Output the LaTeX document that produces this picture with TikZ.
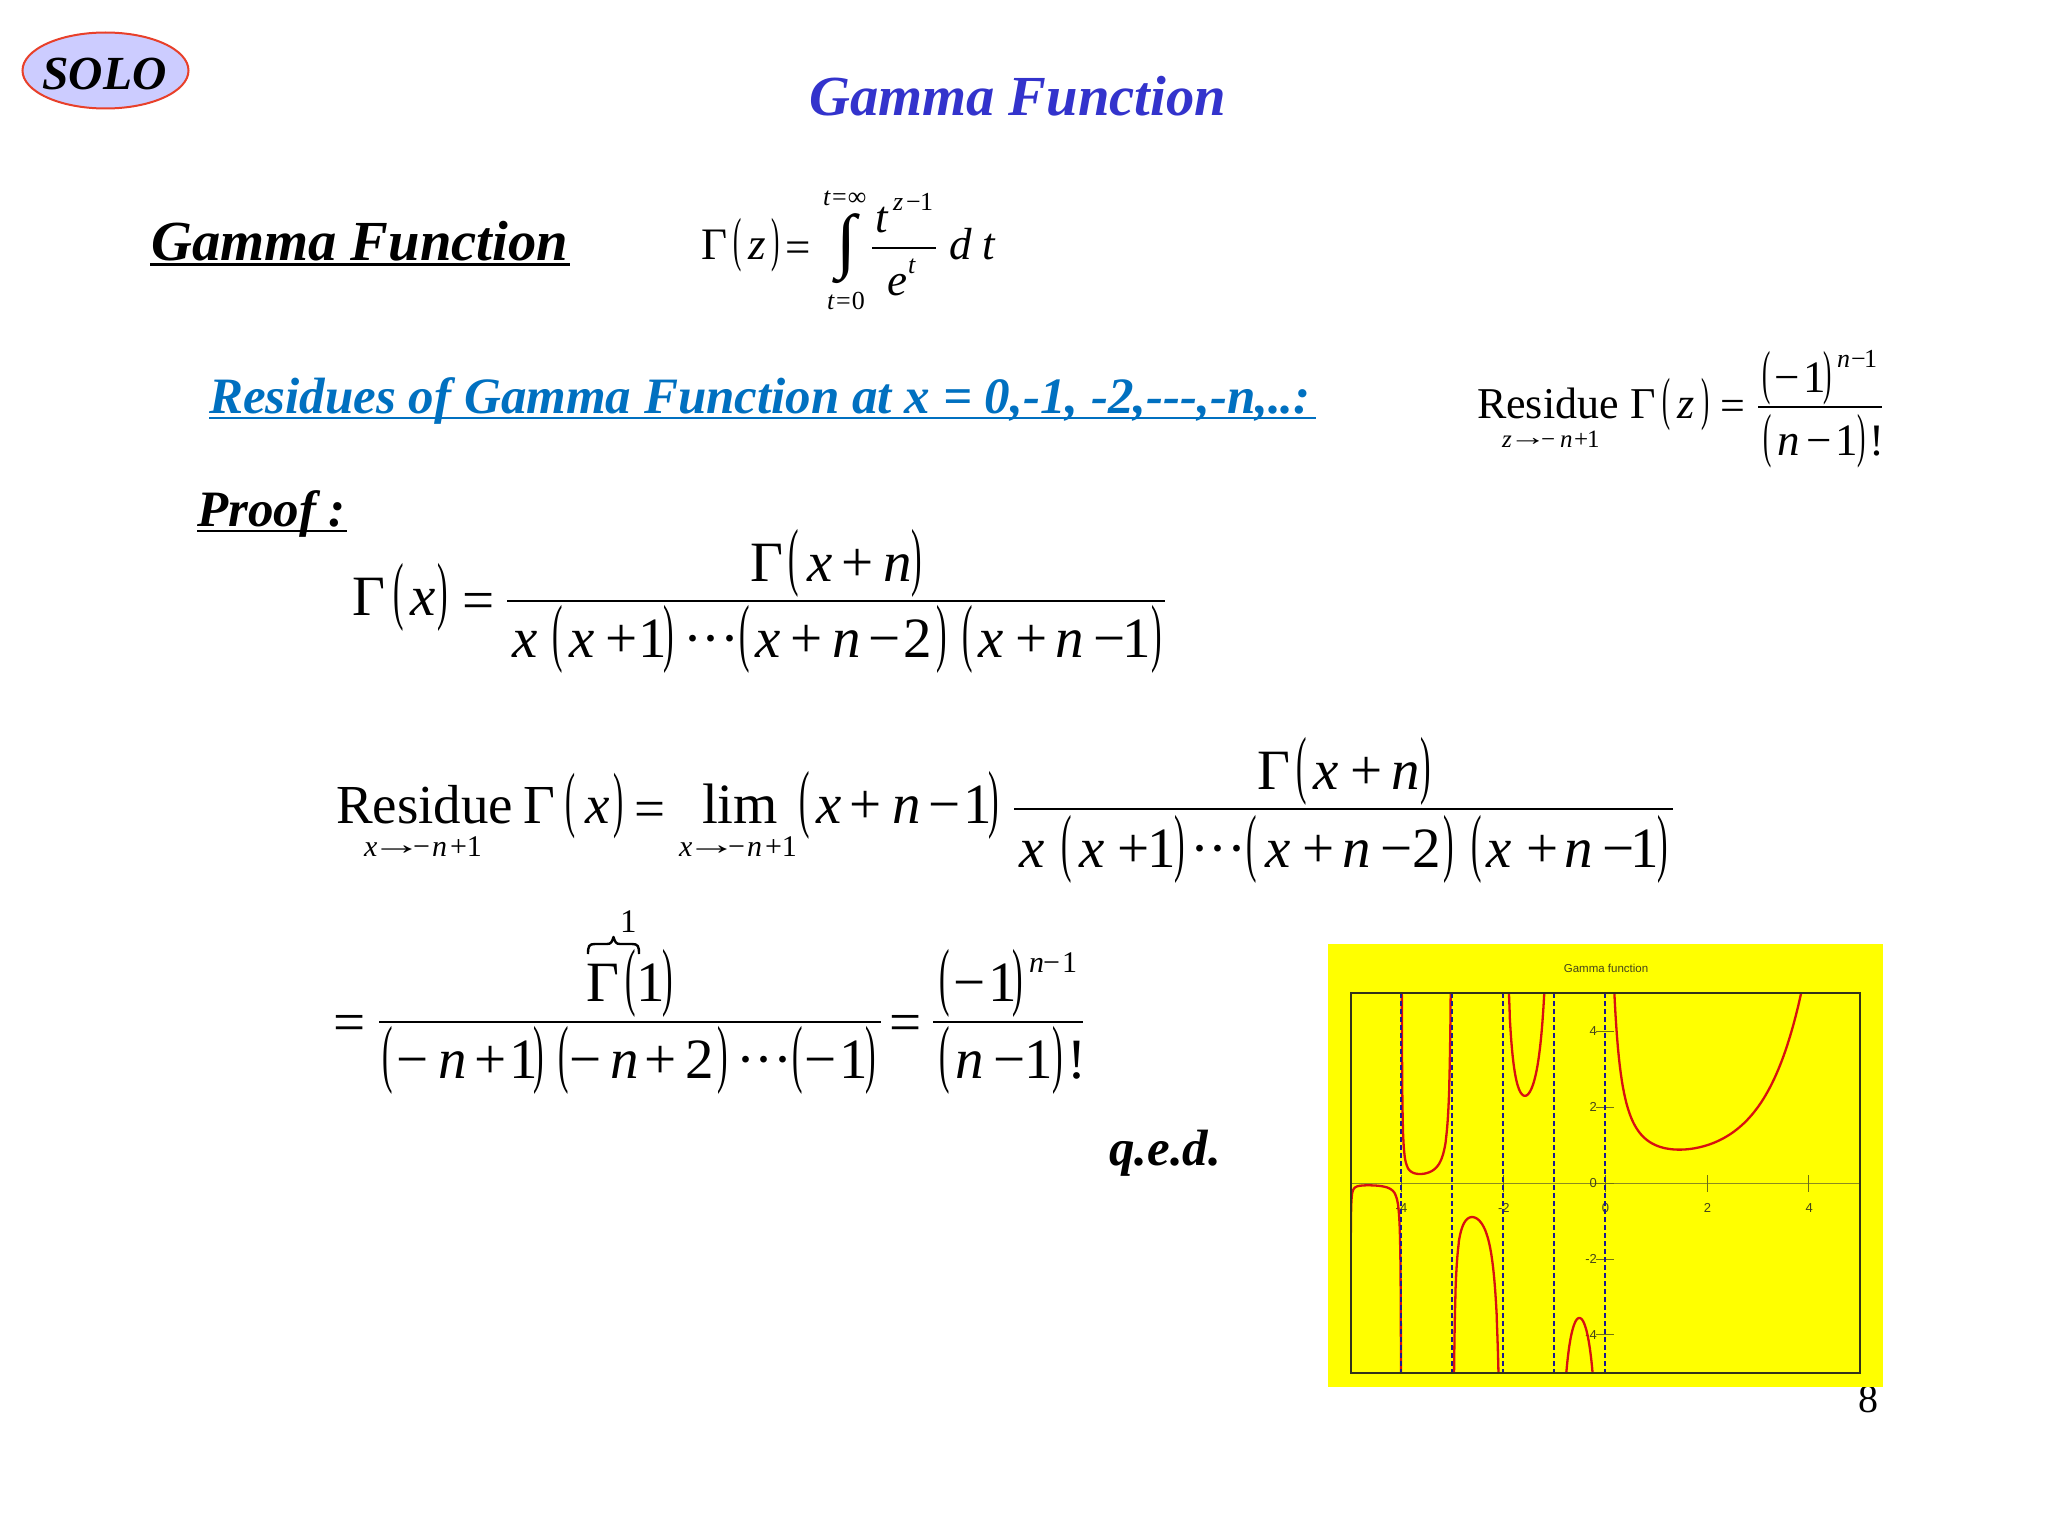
\documentclass[tikz,border=0pt]{standalone}
\usepackage{fontspec}
\usepackage{graphicx}
\usetikzlibrary{shapes.geometric}
\setmainfont{Liberation Serif}
\newfontfamily\plotfont{Liberation Sans}
\definecolor{titleblue}{HTML}{3333CC}
\definecolor{resblue}{HTML}{0070C0}
\definecolor{solofill}{HTML}{CCCCFF}
\definecolor{soloedge}{HTML}{E8402A}
\definecolor{plotyellow}{HTML}{FFFF00}
\definecolor{plotred}{HTML}{D81010}
\definecolor{plotnavy}{HTML}{1A1A90}
\definecolor{plotframe}{HTML}{33331A}
\definecolor{plotaxis}{HTML}{8C8C20}
\definecolor{plottext}{HTML}{44441A}
\newcommand\tk[2]{\rlap{\kern\dimexpr#1pt-\fx\relax #2}}
\newcommand\iv[1]{\textit{#1}}
\newcommand\lpr{\scalebox{.55}[1.32]{(}}
\newcommand\rpr{\scalebox{.55}[1.32]{)}}
\newcommand\arr[1]{\raisebox{1.5pt}{\scalebox{#1}[1]{→}}}
\newcommand\row[6]{\node[tok,font=\fontsize{#5}{#5}\selectfont] (#1) at (#2,#4) {\def\fx{#2pt}\hbox to \dimexpr#3pt-#2pt\relax{#6\hfil}};}
\tikzset{
  tok/.style={anchor=base west,inner sep=0pt,outer sep=0pt},
  fracline/.style={line width=2.2pt,black},
  uline/.style={line width=2.6pt},
  curve/.style={plotred,line width=2.3pt,line join=round},
  dashline/.style={plotnavy,line width=2pt,dash pattern=on 4.5pt off 3.5pt},
  tickmark/.style={plotframe!70!plotyellow,line width=1pt},
  plotlabel/.style={plottext,font=\plotfont\fontsize{13}{13}\selectfont,inner sep=0pt},
  heading/.style={anchor=base west,inner sep=0pt,font=\bfseries\itshape\fontsize{56.6}{57}\selectfont}
}
\begin{document}
\begin{tikzpicture}[x=1pt,y=-1pt,
  declare function={
    lgam(\y)=(\y-0.5)*ln(\y)-\y+0.918939+1/(12*\y)-0.002778/(\y*\y*\y);
    lnp(\x)=ln(abs(\x))+ln(abs(\x+1))+ln(abs(\x+2))+ln(abs(\x+3))+ln(abs(\x+4))+ln(abs(\x+5))+ln(abs(\x+6))+ln(abs(\x+7));
    gam(\x)=exp(lgam(\x+8)-lnp(\x));
    cs(\t,\a,\b)=\a+(\b-\a)*(0.5-0.5*cos(\t));
  }]
\useasboundingbox (0,0) rectangle (2048,1536);
\fill[white] (0,0) rectangle (2048,1536);

% SOLO badge
\node[ellipse,draw=soloedge,fill=solofill,line width=2pt,minimum width=166pt,minimum height=76pt,inner sep=0pt] (soloedge) at (105.5,70.5) {};
\node[tok,font=\bfseries\itshape\fontsize{47.5}{48}\selectfont] (solo) at (42.5,90) {SOLO};

% Headings
\node[heading,text=titleblue] (title) at (809,116) {Gamma Function};
\node[heading] (gf) at (151,260) {Gamma Function};
\draw[uline] (150,264.5) -- (570,264.5);
\node[heading,text=resblue,font=\bfseries\itshape\fontsize{51}{51}\selectfont] (res) at (209,413) {Residues of Gamma Function at x = 0,-1, -2,-{}-{}-,-n,..:};
\draw[uline,resblue] (209,418) -- (1316,418);
\node[heading,font=\bfseries\itshape\fontsize{51}{51}\selectfont] (proof) at (197,526) {Proof :};
\draw[uline] (197,531) -- (347,531);

% Formula 1
\row{fa}{701}{780}{259}{45}{\tk{701}{Γ}\tk{733}{\lpr}\tk{748}{\iv{z}}\tk{771}{\rpr}}
\row{fq}{785}{815}{262}{45}{\tk{785}{=}}
\row{fh}{949}{1000}{259}{45}{\tk{949}{\iv{d}}\tk{983}{\iv{t}}}
\node[inner sep=0pt] (int) at (846,249) {\resizebox*{20pt}{70pt}{∫}};
\row{fb}{823}{868}{205}{26}{\tk{823}{\iv{t}}\tk{832}{=}\tk{848}{∞}}
\row{fc}{827}{866}{309}{26}{\tk{827}{\iv{t}}\tk{836}{=}\tk{852}{0}}
\row{fd}{875}{890}{232}{45}{\tk{875}{\iv{t}}}
\row{fe}{893}{935}{210}{26}{\tk{893}{\iv{z}}\tk{906}{−}\tk{920}{1}}
\draw[fracline,line width=1.8pt] (872,248) -- (936,248);
\row{ff}{887}{907}{295}{45}{\tk{887}{\iv{e}}}
\row{fg}{908}{918}{273}{26}{\tk{908}{\iv{t}}}

% Formula 2
\row{ra}{1477}{1715}{418}{44}{\tk{1477}{Residue}\tk{1630}{Γ}\tk{1662}{\lpr}\tk{1677}{\iv{z}}\tk{1701}{\rpr}}
\row{rq}{1720}{1750}{420}{44}{\tk{1720}{=}}
\row{rb}{1502}{1605}{447}{25}{\tk{1502}{\iv{z}}\tk{1509}{\arr{1.5}}\tk{1541}{−}\tk{1560}{\iv{n}}\tk{1574}{+}\tk{1587}{1}}
\draw[fracline,line width=1.8pt] (1758,407) -- (1882,407);
\row{rc}{1762}{1835}{392}{45}{\tk{1762}{\lpr}\tk{1774}{−}\tk{1803}{1}\tk{1823}{\rpr}}
\row{rd}{1837}{1880}{367}{26}{\tk{1837}{\iv{n}}\tk{1851}{−}\tk{1864}{1}}
\row{re}{1763}{1885}{455}{45}{\tk{1763}{\lpr}\tk{1777}{\iv{n}}\tk{1806}{−}\tk{1835}{1}\tk{1857}{\rpr}\tk{1869}{!}}

% Formula 3
\row{ga}{352}{455}{615}{57}{\tk{352}{Γ}\tk{393}{\lpr}\tk{410}{\iv{x}}\tk{437}{\rpr}}
\row{gq}{462}{500}{619}{57}{\tk{462}{=}}
\row{gb}{750}{925}{581}{57}{\tk{750}{Γ}\tk{788}{\lpr}\tk{807}{\iv{x}}\tk{841}{+}\tk{883}{\iv{n}}\tk{911}{\rpr}}
\draw[fracline] (507,600.7) -- (1165,600.7);
\row{gc}{512}{1165}{657}{57}{\tk{512}{\iv{x}}\tk{552}{\lpr}\tk{569}{\iv{x}}\tk{605}{+}\tk{639}{1}\tk{663}{\rpr}\tk{683}{···}\tk{739}{\lpr}\tk{755}{\iv{x}}\tk{790}{+}\tk{832}{\iv{n}}\tk{868}{−}\tk{904}{2}\tk{936}{\rpr}\tk{962}{\lpr}\tk{978}{\iv{x}}\tk{1015}{+}\tk{1055}{\iv{n}}\tk{1093}{−}\tk{1122}{1}\tk{1151}{\rpr}}

% Formula 4
\row{ha}{336}{625}{823}{55}{\tk{336}{Residue}\tk{524}{Γ}\tk{565}{\lpr}\tk{585}{\iv{x}}\tk{613}{\rpr}}
\row{hq}{634}{670}{827}{55}{\tk{634}{=}}
\row{hb}{702}{1000}{823}{57}{\tk{702}{lim}\tk{799}{\lpr}\tk{816}{\iv{x}}\tk{849}{+}\tk{892}{\iv{n}}\tk{928}{−}\tk{963}{1}\tk{988}{\rpr}}
\row{hc}{364}{490}{856}{30}{\tk{364}{\iv{x}}\tk{371}{\arr{1.7}}\tk{413}{−}\tk{432}{\iv{n}}\tk{450}{+}\tk{467}{1}}
\row{hd}{679}{807}{856}{30}{\tk{679}{\iv{x}}\tk{686}{\arr{1.7}}\tk{728}{−}\tk{747}{\iv{n}}\tk{765}{+}\tk{782}{1}}
\row{he}{1257}{1430}{789}{57}{\tk{1257}{Γ}\tk{1296}{\lpr}\tk{1313}{\iv{x}}\tk{1350}{+}\tk{1391}{\iv{n}}\tk{1420}{\rpr}}
\draw[fracline] (1014,809) -- (1673,809);
\row{hf}{1019}{1670}{867}{57}{\tk{1019}{\iv{x}}\tk{1061}{\lpr}\tk{1079}{\iv{x}}\tk{1117}{+}\tk{1147}{1}\tk{1174}{\rpr}\tk{1190}{···}\tk{1246}{\lpr}\tk{1265}{\iv{x}}\tk{1302}{+}\tk{1342}{\iv{n}}\tk{1380}{−}\tk{1412}{2}\tk{1443}{\rpr}\tk{1471}{\lpr}\tk{1486}{\iv{x}}\tk{1526}{+}\tk{1564}{\iv{n}}\tk{1602}{−}\tk{1630}{1}\tk{1657}{\rpr}}

% Formula 5
\row{ia}{333}{370}{1041}{57}{\tk{333}{=}}
\row{ib}{586}{680}{1001}{57}{\tk{586}{Γ}\tk{625}{\lpr}\tk{636}{1}\tk{662}{\rpr}}
\row{ic}{620}{640}{932}{33}{\tk{620}{1}}
\draw[line width=2.4pt,line join=round] (588,954) .. controls (588,946) and (589,944) .. (595,944) -- (607,944) .. controls (611,944) and (612,942) .. (613.5,937) .. controls (615,942) and (616,944) .. (620,944) -- (632,944) .. controls (638,944) and (639,946) .. (639,954);
\draw[fracline] (379,1022) -- (881,1022);
\row{ij}{889}{925}{1041}{57}{\tk{889}{=}}
\draw[fracline] (933,1022) -- (1083,1022);
\row{id}{939}{1025}{1001}{57}{\tk{939}{\lpr}\tk{953}{−}\tk{988}{1}\tk{1012}{\rpr}}
\row{ie}{1029}{1080}{972}{30}{\tk{1029}{\iv{n}}\tk{1043}{−}\tk{1062}{1}}
\row{ig}{382}{880}{1078}{57}{\tk{382}{\lpr}\tk{396}{−}\tk{438}{\iv{n}}\tk{474}{+}\tk{509}{1}\tk{533}{\rpr}\tk{558}{\lpr}\tk{569}{−}\tk{610}{\iv{n}}\tk{644}{+}\tk{686}{2}\tk{717}{\rpr}\tk{736}{···}\tk{792}{\lpr}\tk{804}{−}\tk{839}{1}\tk{865}{\rpr}}
\row{ih}{939}{1085}{1078}{57}{\tk{939}{\lpr}\tk{955}{\iv{n}}\tk{993}{−}\tk{1024}{1}\tk{1052}{\rpr}\tk{1067}{!}}
\node[heading,font=\bfseries\itshape\fontsize{51}{51}\selectfont] (qed) at (1109,1165) {q.e.d.};

% Page number, partly behind the plot
\node[tok,font=\fontsize{40}{40}\selectfont] (page) at (1858,1412) {8};

% Plot
\fill[plotyellow] (1328,944) rectangle (1882.5,1387);
\node[plotlabel,font=\plotfont\fontsize{11.5}{12}\selectfont] (ptitle) at (1606,968) {Gamma function};
\draw[plotaxis,line width=1pt] (1351,1183.3) -- (1859.5,1183.3);
\foreach \v/\lab/\yy in {4/4/1031.3,2/2/1107,0/0/1183.3,-2/-2/1259,-4/-4/1334.7}{
  \draw[tickmark] (1596,\yy) -- (1613.5,\yy);
  \node[plotlabel,anchor=east] at (1597,\yy) {\lab};
}
\foreach \xx/\lab in {1401/-4,1503.3/-2,1605/0,1707/2,1808.7/4}{
  \draw[tickmark] (\xx,1175) -- (\xx,1192);
  \node[plotlabel] at (\xx+.5,1208) {\lab};
}
\begin{scope}
\clip (1351,993) rectangle (1859.5,1372.7);
\foreach \a/\b/\s in {-4.9995/-4.001/-1,-3.999/-3.003/1,-2.99/-2.01/-1,-1.98/-1.02/1,-0.95/-0.05/-1,0.05/4.1/1}{
  \draw[curve] plot[domain=0:180,samples=160,variable=\t] ({1605+50.9*cs(\t,\a,\b)},{1183.3-38*\s*gam(cs(\t,\a,\b))});
}
\end{scope}
\foreach \xx in {1401,1452,1503.3,1554,1605}{
  \draw[dashline] (\xx,993) -- (\xx,1372.7);
}
\draw[plotframe,line width=2pt] (1351,993) rectangle (1859.5,1372.7);
\end{tikzpicture}
\end{document}
